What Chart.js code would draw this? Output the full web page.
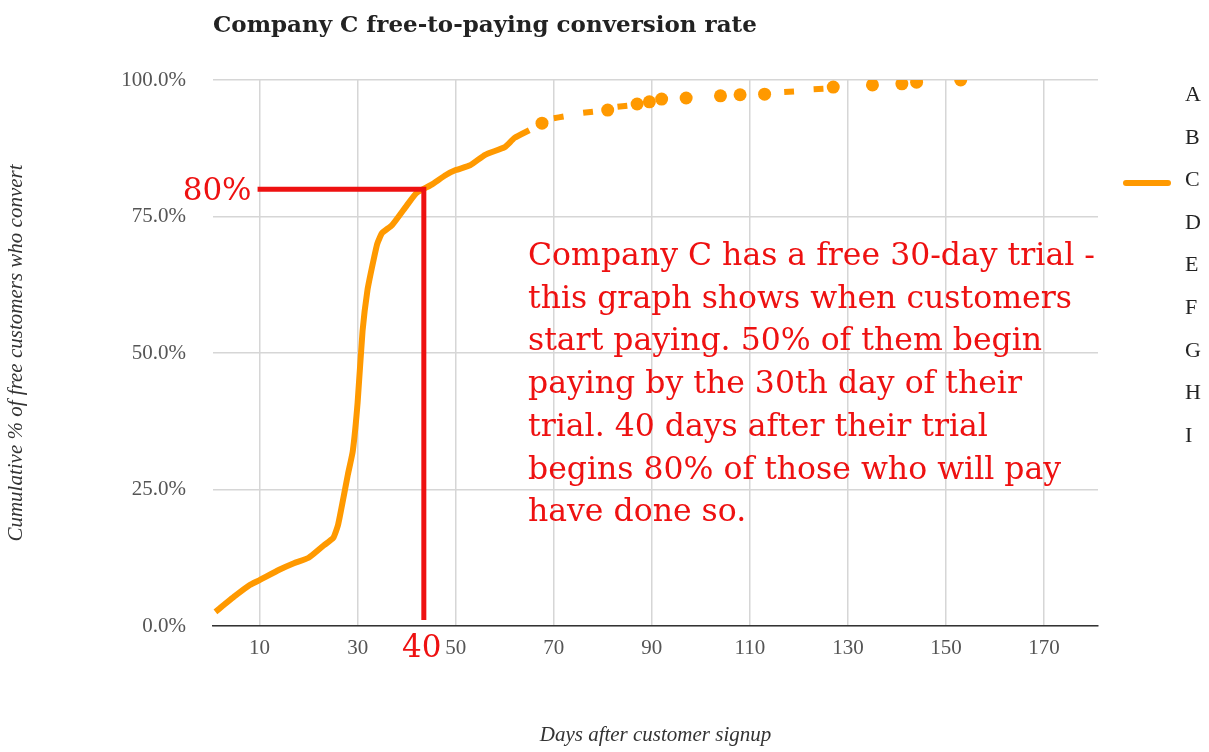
<!DOCTYPE html>
<html>
<head>
<meta charset="utf-8">
<script src="https://cdn.jsdelivr.net/npm/chart.js@4.4.0/dist/chart.umd.min.js"></script>
<style>
  body { margin: 0; background: #fff; }
  #wrap { position: relative; width: 1209px; height: 752px; }
  #title { position: absolute; left: 213px; top: 10px; font: bold 23px "DejaVu Serif", serif; color: #222; }
  #legend { position: absolute; left: 1120px; top: 81px; font: 22px "Liberation Serif", serif; color: #222; }
  #legend div { height: 42.6px; position: relative; padding-left: 65px; }
  #legend .line { position: absolute; left: 3px; top: 14px; width: 48px; height: 6px; background: #ff9900; border-radius: 3px; }
  #note { position: absolute; left: 528px; top: 233px; font: 31.5px "DejaVu Serif", serif; color: #ee1111; line-height: 42.7px; }
</style>
</head>
<body>
<div id="wrap">
  <canvas id="myChart" width="1209" height="752"></canvas>
  <div id="title">Company C free-to-paying conversion rate</div>
  <div id="legend"></div>
  <div id="note">Company C has a free 30-day trial -<br>this graph shows when customers<br>start paying. 50% of them begin<br>paying by the 30th day of their<br>trial. 40 days after their trial<br>begins 80% of those who will pay<br>have done so.</div>
</div>
<script>
var days = [1, 5, 8, 10, 14, 17, 20, 23, 25, 26, 27, 28, 29, 30, 31, 32, 33, 34, 35, 37, 40, 42, 45, 48, 50, 53, 56, 60, 62, 65,
  66, 67.6, 69, 70, 72, 74, 76, 78, 79.5, 81, 82, 83, 85, 86, 87, 88, 89.5, 91, 92, 94, 97, 100, 104, 106, 108, 110, 113, 115, 117, 119, 121, 123, 125, 126, 127, 130, 135, 138, 141, 142, 144, 147, 153];
var rate = [2.6, 5.5, 7.5, 8.4, 10.3, 11.5, 12.5, 14.7, 16.1, 18.5, 23, 27.7, 32, 41, 54, 61.5, 66, 70, 72, 73.4, 77, 79.3, 80.8, 82.6, 83.5, 84.4, 86.3, 87.7, 89.4, 90.8,
  null, 92.1, null, 93.0, 93.3, null, 94.0, 94.2, null, 94.5, null, 95.1, 95.3, null, 95.6, null, 96.0, null, 96.5, null, 96.7, null, 97.1, null, 97.3, null, 97.4, null, 97.8, 97.9, null, 98.3, 98.4, null, 98.7, null, 99.1, null, 99.3, null, 99.6, null, 100];
var xTicks = [10, 30, 50, 70, 90, 110, 130, 150, 170];
var yTicks = [0, 25, 50, 75, 100];
var legendNames = ["A", "B", "C", "D", "E", "F", "G", "H", "I"];

var leg = document.getElementById("legend");
legendNames.forEach(function (n) {
  var d = document.createElement("div");
  d.innerHTML = (n === "C" ? '<span class="line"></span>' : "") + n;
  leg.appendChild(d);
});

var points = days.map(function (d, i) { return { x: d, y: rate[i] }; });

var markPlugin = {
  id: "mark",
  afterDatasetsDraw: function (chart) {
    var c = chart.ctx, xs = chart.scales.x, ys = chart.scales.y;
    var x0 = xs.getPixelForValue(10), x1 = xs.getPixelForValue(43.5);
    var y80 = ys.getPixelForValue(80), y0 = ys.getPixelForValue(0);
    c.save();
    c.strokeStyle = "#ee1111";
    c.lineWidth = 5;
    c.beginPath();
    c.moveTo(x0 - 2, y80); c.lineTo(x1, y80); c.lineTo(x1, y0 - 6);
    c.stroke();
    c.fillStyle = "#ee1111";
    c.font = "31px 'DejaVu Serif', serif";
    c.textAlign = "right"; c.textBaseline = "middle";
    c.fillText("80%", x0 - 8, y80 + 3);
    c.textAlign = "center"; c.textBaseline = "top";
    c.fillText("40", x1 - 2, y0 + 7);
    c.restore();
  }
};

var ctx = document.getElementById("myChart");
var myChart = new Chart(ctx, {
  type: "line",
  data: {
    datasets: [{
      label: "C",
      data: points,
      borderColor: "#ff9900",
      backgroundColor: "#ff9900",
      borderWidth: 6,
      tension: 0.15,
      spanGaps: false,
      pointRadius: function (c) {
        var i = c.dataIndex;
        var prev = i > 0 ? rate[i - 1] : null, next = i < rate.length - 1 ? rate[i + 1] : null;
        return (rate[i] !== null && prev === null && next === null) ? 6.5 : 0;
      },
      pointBorderWidth: 0
    }]
  },
  options: {
    responsive: false,
    animation: false,
    layout: { padding: { top: 80, right: 111, left: 0, bottom: 0 } },
    plugins: { legend: { display: false }, tooltip: { enabled: false } },
    scales: {
      x: {
        type: "linear", min: 0.5, max: 181,
        afterBuildTicks: function (s) { s.ticks = xTicks.map(function (v) { return { value: v }; }); },
        afterFit: function (s) { s.height = 126; },
        grid: { color: "#d6d6d6", lineWidth: 1.5, drawTicks: false },
        border: { color: "#333", width: 1.5 },
        ticks: { color: "#555", font: { family: "Liberation Serif", size: 21 }, padding: 10, maxRotation: 0 },
        title: { display: true, text: "Days after customer signup", color: "#333", font: { family: "Liberation Serif", size: 21, style: "italic" }, padding: { top: 52 } }
      },
      y: {
        min: 0, max: 100,
        afterBuildTicks: function (s) { s.ticks = yTicks.map(function (v) { return { value: v }; }); },
        afterFit: function (s) { s.width = 213; },
        grid: { color: "#d6d6d6", lineWidth: 1.5, drawTicks: false },
        border: { display: false },
        ticks: { color: "#555", font: { family: "Liberation Serif", size: 21 }, padding: 27, callback: function (v) { return v.toFixed(1) + "%"; } },
        title: { display: true, text: "Cumulative % of free customers who convert", color: "#333", font: { family: "Liberation Serif", size: 21, style: "italic" }, padding: { bottom: 46 } }
      }
    }
  },
  plugins: [markPlugin]
});
</script>
</body>
</html>
